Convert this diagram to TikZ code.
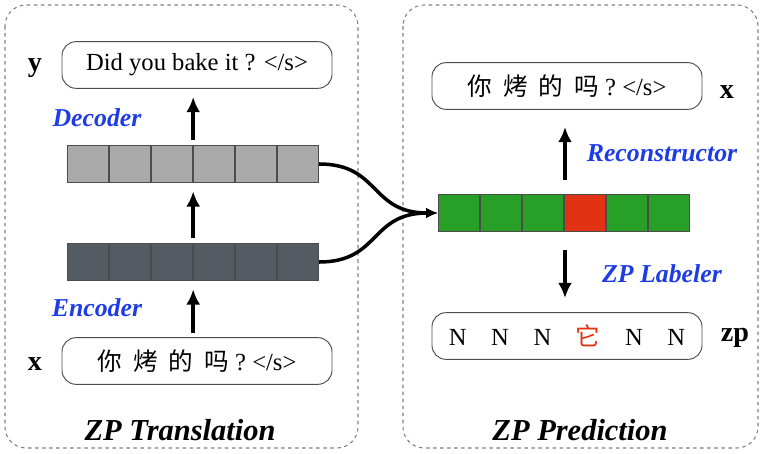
\documentclass[tikz,border=0pt]{standalone}
\usepackage{fontspec}
\setmainfont{Liberation Serif}
\newfontfamily\cjk{Noto Sans CJK SC}
\usetikzlibrary{positioning,arrows.meta}
\definecolor{labelblue}{RGB}{30,60,230}
\definecolor{cellgray}{RGB}{170,170,170}
\definecolor{celldark}{RGB}{85,91,99}
\definecolor{cellgreen}{RGB}{40,160,40}
\definecolor{cellred}{RGB}{225,50,20}
\tikzset{
  panel/.style={draw=gray, dashed, rounded corners=18pt, line width=0.9pt},
  sent/.style={draw=black!70, rounded corners=12pt, minimum width=8.1cm, minimum height=1.4cm, font=\fontsize{21}{21}\selectfont, line width=0.8pt},
  cell/.style={draw=black!70, minimum width=1.25cm, minimum height=1.13cm, inner sep=0pt, line width=0.6pt},
  tag/.style={font=\bfseries\itshape\fontsize{22}{22}\selectfont, text=labelblue},
  var/.style={font=\bfseries\fontsize{24}{24}\selectfont},
  title/.style={font=\bfseries\itshape\fontsize{26}{26}\selectfont},
  thickarrow/.style={-{Latex[length=13pt,width=12pt]}, line width=3.6pt}
}
\begin{document}
\begin{tikzpicture}[x=0.03cm,y=-0.03cm]
    \useasboundingbox (0,0) rectangle (763,454);
    % Panels
    \draw[panel] (5,5) rectangle (358,448);
    \draw[panel] (403,5) rectangle (758,448);
    \node[title] (tl) at (180,430) {ZP Translation};
    \node[title] (tr) at (580,430) {ZP Prediction};

    % Left side: translation
    \node[sent] (tgt) at (197,65) {Did you bake it ? </s>};
    \node[var] at (35,68) {y};
    \node[sent] (src) at (197,361) {{\cjk 你\ \ 烤\ \ 的\ \ 吗}\ ?\ </s>};
    \node[var] at (35,364) {x};
    \foreach \i in {0,...,5} {
        \node[cell, fill=cellgray] (d\i) at (88+\i*42,164) {};
        \node[cell, fill=celldark] (e\i) at (88+\i*42,262) {};
    }
    \node[tag] at (97,118) {Decoder};
    \node[tag] at (97,308) {Encoder};
    \draw[thickarrow, shorten <=4pt, shorten >=7pt] (src.north -| e2.east) -- (e2.south east);
    \draw[thickarrow, shorten <=4pt, shorten >=7pt] (e2.north east) -- (d2.south east);
    \draw[thickarrow, shorten <=4pt, shorten >=7pt] (d2.north east) -- (tgt.south -| d2.east);

    % Right side: prediction
    \foreach \i/\c in {0/cellgreen,1/cellgreen,2/cellgreen,3/cellred,4/cellgreen,5/cellgreen} {
        \node[cell, fill=\c] (z\i) at (459+\i*42,213) {};
    }
    \node[sent] (rec) at (567,86) {{\cjk 你\ \ 烤\ \ 的\ \ 吗}\ ?\ </s>};
    \node[var] at (727,92) {x};
    \node[sent] (lab) at (567,336) {N\quad N\quad N\quad {\cjk\color{cellred}它}\quad N\quad N};
    \node[var] at (735,338) {zp};
    \draw[thickarrow] (565,180) -- (565,127);
    \draw[thickarrow] (565,250) -- (565,298);
    \node[tag] at (662,153) {Reconstructor};
    \node[tag] at (662,274) {ZP Labeler};

    % Connectors
    \draw[-{Latex[length=10pt,width=9pt]}, line width=3pt] (d5.east) .. controls (380,164) and (370,213) .. (z0.west);
    \draw[-{Latex[length=10pt,width=9pt]}, line width=3pt] (e5.east) .. controls (380,262) and (370,213) .. (z0.west);
\end{tikzpicture}
\end{document}
